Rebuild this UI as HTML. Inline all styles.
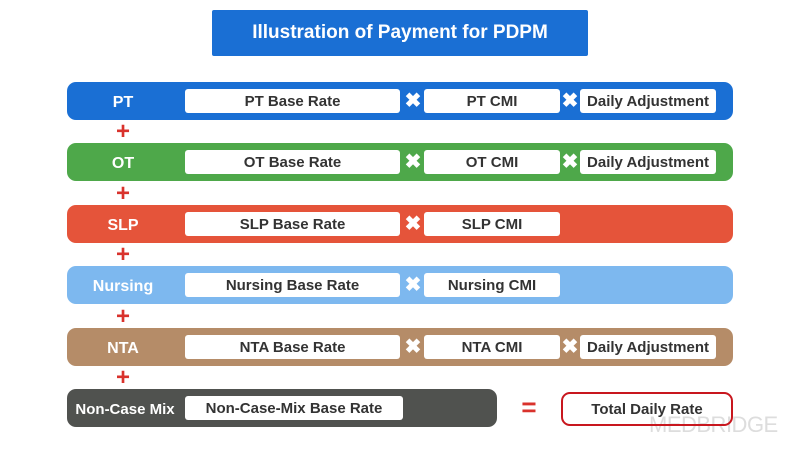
<!DOCTYPE html>
<html><head><style>
body{margin:0;width:800px;height:450px;background:#fff;position:relative;overflow:hidden;font-family:"Liberation Sans",Arial,sans-serif;}
.a{position:absolute;box-sizing:border-box;}
.title{left:212px;top:10px;width:376px;height:46px;background:#1a6fd4;color:#fff;font-weight:bold;font-size:19px;display:flex;align-items:center;justify-content:center;border-radius:2px;}
.bar{left:67px;width:666px;height:38px;border-radius:9px;}
.lab{width:112px;left:67px;height:38px;padding-top:3px;color:#fff;font-weight:bold;font-size:16px;display:flex;align-items:center;justify-content:center;}
.box{background:#fff;height:24px;border-radius:3px;color:#333;font-weight:bold;font-size:15px;display:flex;align-items:center;justify-content:center;}
.x{color:#fff;font-weight:bold;font-size:20px;width:20px;text-align:center;line-height:24px;}
.plus{left:113px;width:20px;text-align:center;color:#d9322c;font-weight:bold;font-size:24px;line-height:20px;}
</style></head><body>
<div class="a title">Illustration of Payment for PDPM</div>

<div class="a bar" style="top:82px;background:#1a6fd4"></div>
<div class="a lab" style="top:82px">PT</div>
<div class="a box" style="left:185px;top:89px;width:215px">PT Base Rate</div>
<div class="a x" style="left:403px;top:89px">✖</div>
<div class="a box" style="left:424px;top:89px;width:136px">PT CMI</div>
<div class="a x" style="left:560px;top:89px">✖</div>
<div class="a box" style="left:580px;top:89px;width:136px">Daily Adjustment</div>
<div class="a plus" style="top:122px">+</div>

<div class="a bar" style="top:143px;background:#4ea84a"></div>
<div class="a lab" style="top:143px">OT</div>
<div class="a box" style="left:185px;top:150px;width:215px">OT Base Rate</div>
<div class="a x" style="left:403px;top:150px">✖</div>
<div class="a box" style="left:424px;top:150px;width:136px">OT CMI</div>
<div class="a x" style="left:560px;top:150px">✖</div>
<div class="a box" style="left:580px;top:150px;width:136px">Daily Adjustment</div>
<div class="a plus" style="top:184px">+</div>

<div class="a bar" style="top:205px;background:#e5543a"></div>
<div class="a lab" style="top:205px">SLP</div>
<div class="a box" style="left:185px;top:212px;width:215px">SLP Base Rate</div>
<div class="a x" style="left:403px;top:212px">✖</div>
<div class="a box" style="left:424px;top:212px;width:136px">SLP CMI</div>
<div class="a plus" style="top:245px">+</div>

<div class="a bar" style="top:266px;background:#7db8ef"></div>
<div class="a lab" style="top:266px">Nursing</div>
<div class="a box" style="left:185px;top:273px;width:215px">Nursing Base Rate</div>
<div class="a x" style="left:403px;top:273px">✖</div>
<div class="a box" style="left:424px;top:273px;width:136px">Nursing CMI</div>
<div class="a plus" style="top:307px">+</div>

<div class="a bar" style="top:328px;background:#b58c68"></div>
<div class="a lab" style="top:328px">NTA</div>
<div class="a box" style="left:185px;top:335px;width:215px">NTA Base Rate</div>
<div class="a x" style="left:403px;top:335px">✖</div>
<div class="a box" style="left:424px;top:335px;width:136px">NTA CMI</div>
<div class="a x" style="left:560px;top:335px">✖</div>
<div class="a box" style="left:580px;top:335px;width:136px">Daily Adjustment</div>
<div class="a plus" style="top:368px">+</div>

<div class="a" style="left:67px;top:389px;width:430px;height:38px;border-radius:9px;background:#50524f"></div>
<div class="a lab" style="top:389px;width:116px;font-size:15px">Non-Case Mix</div>
<div class="a box" style="left:185px;top:396px;width:218px">Non-Case-Mix Base Rate</div>
<div class="a" style="left:518px;top:392px;width:22px;color:#d9322c;font-weight:bold;font-size:26px;text-align:center">=</div>
<div class="a" style="left:649px;top:412px;color:#ddd;font-size:22px;letter-spacing:-0.5px">MEDBRIDGE</div>
<div class="a" style="left:561px;top:392px;width:172px;height:34px;border:2px solid #c8171e;border-radius:9px;color:#333;font-weight:bold;font-size:15px;display:flex;align-items:center;justify-content:center">Total Daily Rate</div>
</body></html>
